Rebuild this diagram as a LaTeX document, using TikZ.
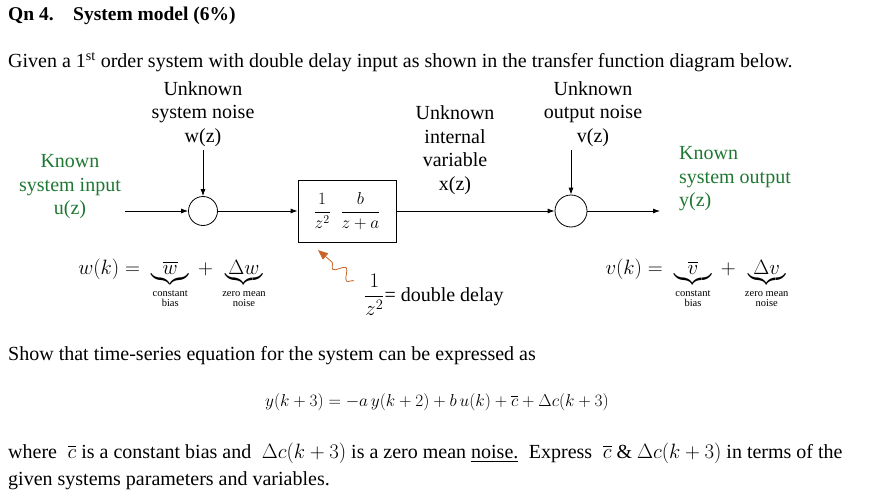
\documentclass[tikz,border=0pt]{standalone}
\usepackage{fontspec}
\setmainfont{Liberation Serif}
\usepackage{amsmath}
\usetikzlibrary{arrows.meta,decorations.pathmorphing}
\definecolor{kgreen}{RGB}{30,120,50}
\definecolor{korange}{RGB}{200,100,40}
\newcommand{\smalltxt}[1]{\text{\fontsize{10.5}{11}\selectfont #1}}
\begin{document}
\begin{tikzpicture}[x=1pt,y=-1pt,
  txt/.style={font=\fontsize{20}{23.5}\selectfont,align=center,inner sep=0},
  ltxt/.style={font=\fontsize{20}{22}\selectfont,anchor=west,inner sep=0},
  sum/.style={draw,thick,circle,minimum size=29pt,inner sep=0},
  arr/.style={-{Latex[length=7pt,width=5pt]},thick}]
\useasboundingbox (0,0) rectangle (876,503);
\node[ltxt,font=\fontsize{19.5}{22}\selectfont\bfseries] (title) at (8,16) {Qn 4.\quad System model (6\%)};
\node[ltxt] (given) at (8,62) {Given a 1\textsuperscript{st} order system with double delay input as shown in the transfer function diagram below.};
\node[txt] (wz) at (203,114) {Unknown\\system noise\\w(z)};
\node[txt,kgreen] (uz) at (70,187) {Known\\system input\\u(z)};
\node[txt] (xz) at (455,150) {Unknown\\internal\\variable\\x(z)};
\node[txt] (vz) at (593,114) {Unknown\\output noise\\v(z)};
\node[txt,kgreen,align=left] (yz) at (735,179) {Known\\system output\\y(z)};
\node[sum] (s1) at (203,211) {};
\node[sum,minimum size=32pt] (s2) at (571,211) {};
\node[draw,thick,minimum width=98pt,minimum height=62pt,inner sep=0,font=\fontsize{17}{20}\selectfont] (box) at (347,211) {$\dfrac{1}{z^2}\;\;\dfrac{b}{z+a}$};
\coordinate (uin) at (125,211);
\coordinate (wtop) at (203,150);
\coordinate (vtop) at (571,150);
\coordinate (yout) at (660,211);
\draw[arr] (uin) -- (s1);
\draw[arr] (wtop) -- (s1);
\draw[arr] (s1) -- (box);
\draw[arr] (box) -- (s2);
\draw[arr] (vtop) -- (s2);
\draw[arr] (s2) -- (yout);
\node[inner sep=0,font=\fontsize{21}{22}\selectfont,anchor=north] (weq) at (172,259) {$w(k) = \;\underbrace{\overline{w}}_{\substack{\rule{0pt}{10pt}\smalltxt{constant}\\[-2pt]\smalltxt{bias}}} \;+\; \underbrace{\Delta w}_{\substack{\rule{0pt}{10pt}\smalltxt{zero mean}\\[-2pt]\smalltxt{noise}}}$};
\node[inner sep=0,font=\fontsize{21}{22}\selectfont,anchor=north] (veq) at (697,259) {$v(k) = \;\underbrace{\overline{v}}_{\substack{\rule{0pt}{10pt}\smalltxt{constant}\\[-2pt]\smalltxt{bias}}} \;+\; \underbrace{\Delta v}_{\substack{\rule{0pt}{10pt}\smalltxt{zero mean}\\[-2pt]\smalltxt{noise}}}$};
\node[ltxt] (dd) at (364,295) {$\dfrac{1}{z^2}$= double delay};
\coordinate (sq) at (354,281);
\draw[korange,thick,-{Triangle[length=10pt,width=8pt]},decorate,decoration={snake,amplitude=5pt,segment length=18pt,post length=11pt}] (sq) -- (318,250);
\node[ltxt] (show) at (8,356) {Show that time-series equation for the system can be expressed as};
\node[inner sep=0,font=\fontsize{18}{20}\selectfont] (eq) at (437,402) {$y(k+3) = -a\,y(k+2) + b\,u(k) + \overline{c} + \Delta c(k+3)$};
\node[ltxt] (where) at (8,453) {where\; $\overline{c}$ is a constant bias and\; $\Delta c(k+3)$ is a zero mean \underline{noise.}\; Express\; $\overline{c}$ \& $\Delta c(k+3)$ in terms of the};
\node[ltxt] (given2) at (8,481) {given systems parameters and variables.};
\end{tikzpicture}
\end{document}
